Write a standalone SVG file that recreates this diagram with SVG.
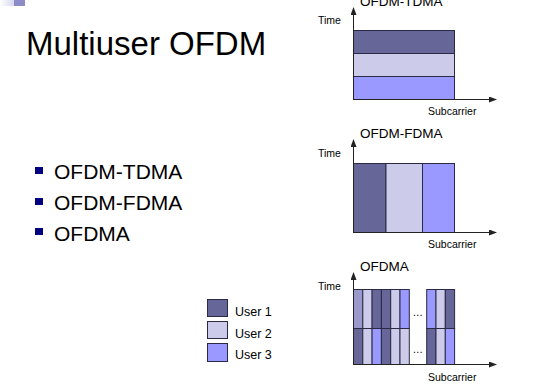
<svg xmlns="http://www.w3.org/2000/svg" width="551" height="387" viewBox="0 0 551 387">
<defs>
<linearGradient id="corner" x1="0" y1="0" x2="1" y2="0">
<stop offset="0" stop-color="#ffffff"/>
<stop offset="0.55" stop-color="#d8d8ee"/>
<stop offset="0.56" stop-color="#8c8cc8"/>
<stop offset="1" stop-color="#8c8cc8"/>
</linearGradient>
<marker id="arr" markerWidth="8" markerHeight="6" refX="7" refY="3" orient="auto" markerUnits="userSpaceOnUse">
<path d="M0,0 L8,3 L0,6 z" fill="#222"/>
</marker>
</defs>
<style>
text{font-family:"Liberation Sans",Arial,sans-serif;fill:#000}
.title{font-size:33px}
.bul{font-size:21px}
.ct{font-size:13.5px}
.ax{font-size:10.5px}
.lg{font-size:12.5px}
.axis{stroke:#222;stroke-width:1;fill:none}
.u1{fill:#666699;stroke:#2a2a44;stroke-width:1}
.u2{fill:#ccccea;stroke:#2a2a44;stroke-width:1}
.u3{fill:#9999ff;stroke:#2a2a44;stroke-width:1}
.u0{fill:#9999cc;stroke:#2a2a44;stroke-width:1}
.b{fill:#000080}
</style>
<rect width="551" height="387" fill="#fff"/>
<rect x="0" y="0" width="25" height="6" fill="url(#corner)"/>
<g id="title"><text class="title" x="26" y="55">Multiuser OFDM</text></g>
<g id="bullets">
<rect class="b" x="35" y="167" width="8" height="7"/>
<text class="bul" x="54" y="179">OFDM-TDMA</text>
<rect class="b" x="35" y="198" width="8" height="7"/>
<text class="bul" x="54" y="210">OFDM-FDMA</text>
<rect class="b" x="35" y="228" width="8" height="7"/>
<text class="bul" x="54" y="241">OFDMA</text>
</g>
<g id="legend">
<rect class="u1" x="207.5" y="299.5" width="20" height="17"/>
<text class="lg" x="235" y="316">User 1</text>
<rect class="u2" x="207.5" y="321.5" width="20" height="17"/>
<text class="lg" x="235" y="337.5">User 2</text>
<rect class="u3" x="207.5" y="343.5" width="20" height="18"/>
<text class="lg" x="235" y="359">User 3</text>
</g>
<g id="chart-tdma">
<text class="ct" x="360" y="6">OFDM-TDMA</text>
<text class="ax" x="318" y="24">Time</text>
<rect class="u1" x="353.5" y="30.5" width="101" height="23"/>
<rect class="u2" x="353.5" y="53.5" width="101" height="23"/>
<rect class="u3" x="353.5" y="76.5" width="101" height="23"/>
<text class="ax" x="428" y="115">Subcarrier</text>
</g>
<g id="chart-fdma">
<text class="ct" x="360" y="138">OFDM-FDMA</text>
<text class="ax" x="318" y="157">Time</text>
<rect class="u1" x="353.5" y="163.5" width="32.5" height="69"/>
<rect class="u2" x="386" y="163.5" width="36.5" height="69"/>
<rect class="u3" x="422.5" y="163.5" width="32" height="69"/>
<text class="ax" x="428" y="248">Subcarrier</text>
</g>
<g id="chart-ofdma">
<text class="ct" x="360" y="271">OFDMA</text>
<text class="ax" x="318" y="290">Time</text>
<rect class="u0" x="353.5" y="289.5" width="9.3" height="39"/>
<rect class="u2" x="362.8" y="289.5" width="9.3" height="39"/>
<rect class="u1" x="372.1" y="289.5" width="9.3" height="39"/>
<rect class="u1" x="381.4" y="289.5" width="9.3" height="39"/>
<rect class="u2" x="390.7" y="289.5" width="9.3" height="39"/>
<rect class="u3" x="400" y="289.5" width="9.3" height="39"/>
<rect class="u1" x="353.5" y="328.5" width="9.3" height="36"/>
<rect class="u2" x="362.8" y="328.5" width="9.3" height="36"/>
<rect class="u3" x="372.1" y="328.5" width="9.3" height="36"/>
<rect class="u1" x="381.4" y="328.5" width="9.3" height="36"/>
<rect class="u2" x="390.7" y="328.5" width="9.3" height="36"/>
<rect class="u2" x="400" y="328.5" width="9.3" height="36"/>
<rect class="u3" x="426.7" y="289.5" width="9.3" height="39"/>
<rect class="u2" x="436" y="289.5" width="9.3" height="39"/>
<rect class="u1" x="445.3" y="289.5" width="9.3" height="39"/>
<rect class="u1" x="426.7" y="328.5" width="9.3" height="36"/>
<rect class="u2" x="436" y="328.5" width="9.3" height="36"/>
<rect class="u3" x="445.3" y="328.5" width="9.3" height="36"/>
<text class="ax" x="412.5" y="316">…</text>
<text class="ax" x="412.5" y="353">…</text>
<text class="ax" x="428" y="381">Subcarrier</text>
</g>
<g id="connectors">
<line class="axis" x1="353.5" y1="99.5" x2="353.5" y2="8" marker-end="url(#arr)"/>
<line class="axis" x1="353.5" y1="99.5" x2="496" y2="99.5" marker-end="url(#arr)"/>
<line class="axis" x1="353.5" y1="232.5" x2="353.5" y2="140" marker-end="url(#arr)"/>
<line class="axis" x1="353.5" y1="232.5" x2="496" y2="232.5" marker-end="url(#arr)"/>
<line class="axis" x1="353.5" y1="364.5" x2="353.5" y2="273" marker-end="url(#arr)"/>
<line class="axis" x1="353.5" y1="364.5" x2="496" y2="364.5" marker-end="url(#arr)"/>
</g>
</svg>
